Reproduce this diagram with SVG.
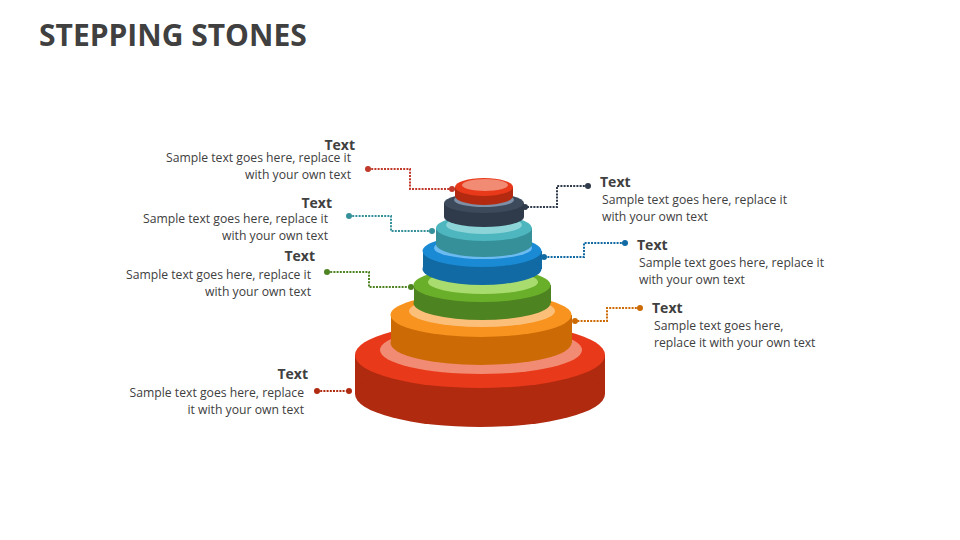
<svg xmlns="http://www.w3.org/2000/svg" width="960" height="540" viewBox="0 0 960 540">
<style>
text{font-family:"Open Sans","Noto Sans","Liberation Sans",sans-serif;fill:#404040}
.t{font-weight:bold;font-size:14px}
.s{font-size:12.2px}
.r{text-anchor:end}
.c{fill:none;stroke-width:2;stroke-dasharray:2 1.2}
</style>
<rect width="960" height="540" fill="#fff"/>
<text x="39" y="46" style="font-size:30px;font-weight:bold;fill:#404040">STEPPING STONES</text>
<g id="tier1"><rect x="355" y="355" width="250" height="39" fill="#B02A10"/><ellipse cx="480" cy="394" rx="125" ry="33" fill="#B02A10"/><ellipse cx="480" cy="355" rx="125" ry="33" fill="#E8391A"/><ellipse cx="481" cy="350" rx="101" ry="24" fill="#F28B73"/></g>
<g id="tier2"><rect x="391" y="315" width="181" height="28" fill="#CC6B06"/><ellipse cx="481" cy="343" rx="90.5" ry="22" fill="#CC6B06"/><ellipse cx="481" cy="315" rx="90.5" ry="22" fill="#F7931E"/><ellipse cx="482" cy="311" rx="73" ry="16" fill="#FBBF7A"/></g>
<g id="tier3"><rect x="414" y="285" width="137" height="18" fill="#4E8321"/><ellipse cx="482" cy="303" rx="68.5" ry="17" fill="#4E8321"/><ellipse cx="482" cy="285" rx="68.5" ry="17" fill="#6AAF2A"/><ellipse cx="483" cy="282" rx="55" ry="12" fill="#A8DC6E"/></g>
<g id="tier4"><rect x="423" y="251" width="119" height="18" fill="#116AA3"/><ellipse cx="482" cy="269" rx="59.5" ry="16" fill="#116AA3"/><ellipse cx="482" cy="251" rx="59.5" ry="16" fill="#1A8AD4"/><ellipse cx="483" cy="248" rx="49" ry="11" fill="#6BBAF0"/></g>
<g id="tier5"><rect x="436" y="228" width="96" height="16" fill="#36909A"/><ellipse cx="484" cy="244" rx="48" ry="13" fill="#36909A"/><ellipse cx="484" cy="228" rx="48" ry="13" fill="#4DB6BE"/><ellipse cx="484" cy="225" rx="38" ry="9" fill="#8DD4D9"/></g>
<g id="tier6"><rect x="444" y="203" width="80" height="14" fill="#2F3A4A"/><ellipse cx="484" cy="217" rx="40" ry="10" fill="#2F3A4A"/><ellipse cx="484" cy="203" rx="40" ry="10" fill="#3D4A5C"/><ellipse cx="484" cy="200" rx="30" ry="7" fill="#7E90A6"/></g>
<g id="tier7"><rect x="455" y="187" width="58" height="9" fill="#B32A10"/><ellipse cx="484" cy="196" rx="29" ry="9" fill="#B32A10"/><ellipse cx="484" cy="187" rx="29" ry="9" fill="#E8391A"/><ellipse cx="485" cy="185" rx="23" ry="6" fill="#F28B73"/></g>
<g id="connectors">
<polyline class="c" stroke="#C0392B" points="368,169 410,169 410,189 452,189"/><circle cx="368" cy="169" r="3" fill="#C0392B"/><circle cx="452" cy="189" r="3" fill="#C0392B"/>
<polyline class="c" stroke="#2F3A4A" points="588,186 557,186 557,207 525,207"/><circle cx="588" cy="186" r="3" fill="#2F3A4A"/><circle cx="525" cy="207" r="3" fill="#2F3A4A"/>
<polyline class="c" stroke="#36909A" points="349,216 391,216 391,231 432,231"/><circle cx="349" cy="216" r="3" fill="#36909A"/><circle cx="432" cy="231" r="3" fill="#36909A"/>
<polyline class="c" stroke="#116AA3" points="625,243 584,243 584,257 544,257"/><circle cx="625" cy="243" r="3" fill="#116AA3"/><circle cx="544" cy="257" r="3" fill="#116AA3"/>
<polyline class="c" stroke="#4E8321" points="327,272 369,272 369,287 411,287"/><circle cx="327" cy="272" r="3" fill="#4E8321"/><circle cx="411" cy="287" r="3" fill="#4E8321"/>
<polyline class="c" stroke="#CC6B06" points="640,308 607,308 607,321 575,321"/><circle cx="640" cy="308" r="3" fill="#CC6B06"/><circle cx="575" cy="321" r="3" fill="#CC6B06"/>
<polyline class="c" stroke="#B02A10" points="317,391 349,391"/><circle cx="317" cy="391" r="3" fill="#B02A10"/><circle cx="349" cy="391" r="3" fill="#B02A10"/>
</g>
<g id="label1"><text class="t r" x="355" y="150">Text</text><text class="s r" x="351" y="162">Sample text goes here, replace it</text><text class="s r" x="351" y="179">with your own text</text></g>
<g id="label2"><text class="t r" x="332" y="208">Text</text><text class="s r" x="328" y="223">Sample text goes here, replace it</text><text class="s r" x="328" y="240">with your own text</text></g>
<g id="label3"><text class="t r" x="315" y="261">Text</text><text class="s r" x="311" y="279">Sample text goes here, replace it</text><text class="s r" x="311" y="296">with your own text</text></g>
<g id="label4"><text class="t r" x="308" y="379">Text</text><text class="s r" x="304" y="397">Sample text goes here, replace</text><text class="s r" x="304" y="414">it with your own text</text></g>
<g id="label5"><text class="t" x="600" y="187">Text</text><text class="s" x="602" y="204">Sample text goes here, replace it</text><text class="s" x="602" y="221">with your own text</text></g>
<g id="label6"><text class="t" x="637" y="250">Text</text><text class="s" x="639" y="267">Sample text goes here, replace it</text><text class="s" x="639" y="284">with your own text</text></g>
<g id="label7"><text class="t" x="652" y="313">Text</text><text class="s" x="654" y="330">Sample text goes here,</text><text class="s" x="654" y="347">replace it with your own text</text></g>
</svg>
